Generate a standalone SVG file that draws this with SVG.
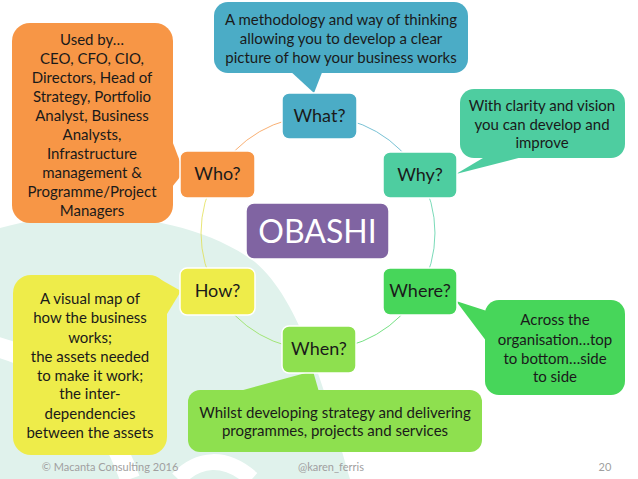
<svg xmlns="http://www.w3.org/2000/svg" width="638" height="479" viewBox="0 0 638 479">
<style>
.t{font-family:Lato,"Liberation Sans",sans-serif;fill:#1a1a1a;text-anchor:middle}
.c{font-size:15px}
.b{font-size:18px}
.f{font-family:Lato,"Liberation Sans",sans-serif;fill:#a0a0a0;font-size:11px;text-anchor:middle}
.arc{fill:none;stroke-width:1;stroke-opacity:0.75}
.box{stroke:#ffffff;stroke-width:1.5}
</style>
<rect width="638" height="479" fill="#ffffff"/>
<g id="background">
<path d="M0,228 C70,208 185,210 255,262 C300,300 325,390 350,479 L0,479 Z" fill="#e0f2ec"/>
<path d="M-10,345 C50,360 100,395 130,479" fill="none" stroke="#ffffff" stroke-width="20"/>
<path d="M178,479 C198,458 225,455 252,479" fill="none" stroke="#ffffff" stroke-width="16"/>
</g>
<g id="connectors">
<path class="arc" stroke="#4BACC6" d="M318,116 A117,117 0 0 1 419.3,174.5"/>
<path class="arc" stroke="#4ECDA0" d="M419.3,174.5 A117,117 0 0 1 419.3,291.5"/>
<path class="arc" stroke="#47D65A" d="M419.3,291.5 A117,117 0 0 1 318,350"/>
<path class="arc" stroke="#8EE04F" d="M318,350 A117,117 0 0 1 216.7,291.5"/>
<path class="arc" stroke="#E0DE4A" d="M216.7,291.5 A117,117 0 0 1 216.7,174.5"/>
<path class="arc" stroke="#F79646" d="M216.7,174.5 A117,117 0 0 1 318,116"/>
</g>
<g id="who-callout">
<polygon points="168,130 184,172 168,192" fill="#F79646"/>
<rect x="12" y="23" width="161" height="200" rx="18" fill="#F79646"/>
<text class="t c"><tspan x="92" y="45">Used by…</tspan><tspan x="92" y="64">CEO, CFO, CIO,</tspan><tspan x="92" y="83">Directors, Head of</tspan><tspan x="92" y="102">Strategy, Portfolio</tspan><tspan x="92" y="121">Analyst, Business</tspan><tspan x="92" y="140">Analysts,</tspan><tspan x="92" y="159">Infrastructure</tspan><tspan x="92" y="178">management &amp;</tspan><tspan x="92" y="197">Programme/Project</tspan><tspan x="92" y="216">Managers</tspan></text>
</g>
<g id="what-callout">
<polygon points="289,70 314,93 323,70" fill="#4BACC6"/>
<rect x="214" y="2" width="254" height="71" rx="14" fill="#4BACC6"/>
<text class="t c"><tspan x="341" y="25">A methodology and way of thinking</tspan><tspan x="341" y="44">allowing you to develop a clear</tspan><tspan x="341" y="63">picture of how your business works</tspan></text>
</g>
<g id="why-callout">
<polygon points="488,155 456,174 530,155" fill="#4ECDA0"/>
<rect x="460" y="89" width="165" height="69" rx="14" fill="#4ECDA0"/>
<text class="t c"><tspan x="542" y="111">With clarity and vision</tspan><tspan x="542" y="130">you can develop and</tspan><tspan x="542" y="148">improve</tspan></text>
</g>
<g id="where-callout">
<polygon points="490,312 456,301 490,346" fill="#47D65A"/>
<rect x="485" y="300" width="140" height="95" rx="14" fill="#47D65A"/>
<text class="t c"><tspan x="555" y="325">Across the</tspan><tspan x="555" y="345">organisation…top</tspan><tspan x="555" y="364">to bottom…side</tspan><tspan x="555" y="382">to side</tspan></text>
</g>
<g id="when-callout">
<polygon points="236,392 313,371 319,392" fill="#8EE04F"/>
<rect x="188" y="390" width="294" height="62" rx="12" fill="#8EE04F"/>
<text class="t c"><tspan x="335" y="418">Whilst developing strategy and delivering</tspan><tspan x="335" y="436">programmes, projects and services</tspan></text>
</g>
<g id="how-callout">
<polygon points="158,278 181,291 167,314" fill="#EEEC4A"/>
<rect x="13" y="275" width="154" height="180" rx="18" fill="#EEEC4A"/>
<text class="t c"><tspan x="90" y="304">A visual map of</tspan><tspan x="90" y="323">how the business</tspan><tspan x="90" y="343">works;</tspan><tspan x="90" y="362">the assets needed</tspan><tspan x="90" y="381">to make it work;</tspan><tspan x="90" y="399">the inter-</tspan><tspan x="90" y="419">dependencies</tspan><tspan x="90" y="438">between the assets</tspan></text>
</g>
<g id="what">
<rect class="box" x="282" y="93" width="75" height="46" rx="7" fill="#4BACC6"/>
<text class="t b" x="319.5" y="122">What?</text>
</g>
<g id="why">
<rect class="box" x="383" y="152" width="74" height="46" rx="7" fill="#4ECDA0"/>
<text class="t b" x="420" y="181">Why?</text>
</g>
<g id="where">
<rect class="box" x="383" y="268" width="74" height="47" rx="7" fill="#47D65A"/>
<text class="t b" x="420" y="297">Where?</text>
</g>
<g id="when">
<rect class="box" x="282" y="326" width="74" height="47" rx="7" fill="#8EE04F"/>
<text class="t b" x="319" y="355">When?</text>
</g>
<g id="how">
<rect class="box" x="180" y="268" width="75" height="47" rx="7" fill="#EEEC4A"/>
<text class="t b" x="217.5" y="297">How?</text>
</g>
<g id="who">
<rect class="box" x="180" y="151" width="75" height="47" rx="7" fill="#F79646"/>
<text class="t b" x="217.5" y="180">Who?</text>
</g>
<g id="obashi">
<rect class="box" x="246" y="203" width="143" height="56" rx="8" fill="#8064A2"/>
<text class="t" x="317.5" y="243" style="font-size:32px;fill:#ffffff">OBASHI</text>
</g>
<g id="footer">
<text class="f" x="110" y="471">© Macanta Consulting 2016</text>
<text class="f" x="331" y="471">@karen_ferris</text>
<text class="f" x="605" y="471">20</text>
</g>
</svg>
